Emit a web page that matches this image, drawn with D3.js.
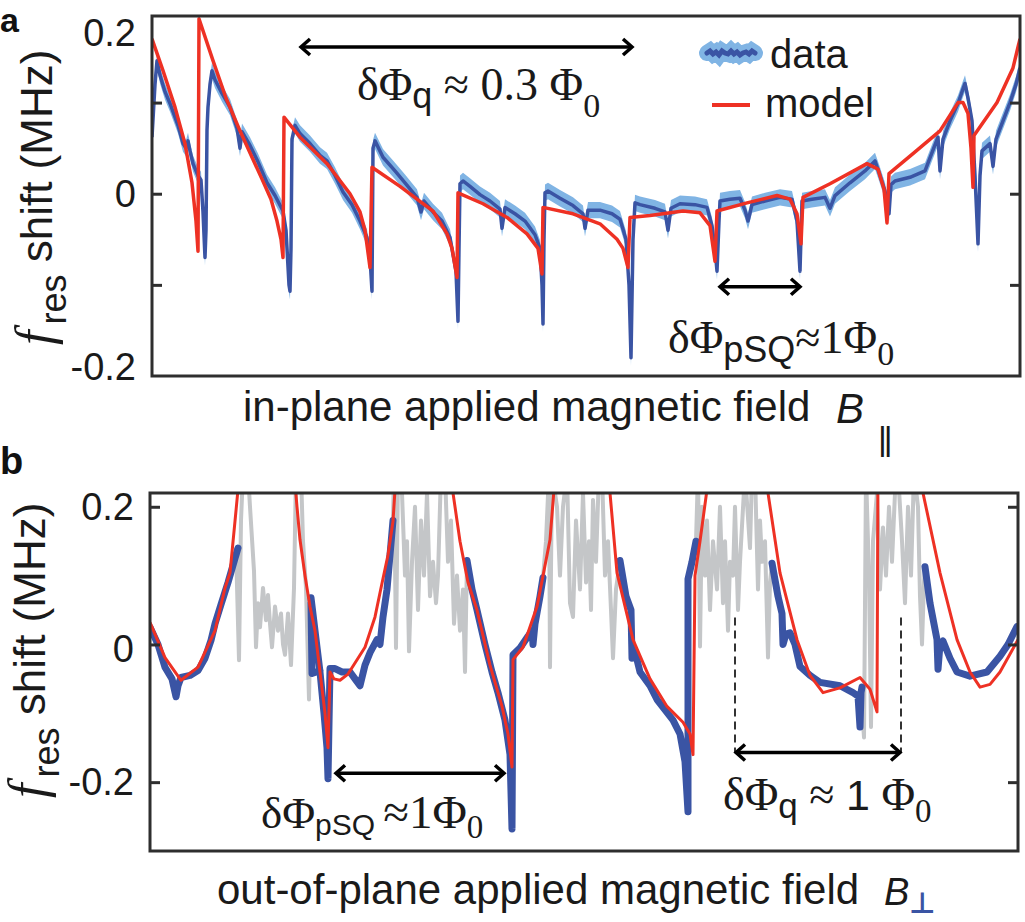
<!DOCTYPE html>
<html><head><meta charset="utf-8">
<script src="https://cdn.jsdelivr.net/npm/d3@7"></script>
<style>body{margin:0;background:#fff}svg{display:block}</style>
</head><body>
<script>
// ---------------- DATA (field in arbitrary units, f_res shift in MHz) ----------------
// Panel a : in-plane field
const aModel = [[0,0.17],[11,0.135],[23,0.095],[33,0.055],[40,0.012],[44,-0.03],[46,-0.063],
 [47,0.192],[61,0.146],[74,0.105],[88,0.069],[100,0.04],[110,0.016],[119,-0.006],[125,-0.03],[129,-0.05],[131,-0.07],
 [132,0.084],[148,0.062],[175,0.033],[198,0.0],[208,-0.02],[213,-0.04],[218,-0.081],
 [220,0.029],[248,0.008],[281,-0.019],[295,-0.044],[300,-0.06],[305,-0.092],
 [306,0.001],[331,-0.011],[355,-0.026],[375,-0.044],[386,-0.06],[390,-0.088],
 [391,-0.015],[421,-0.022],[448,-0.033],[465,-0.05],[471,-0.06],[476,-0.081],
 [478,-0.026],[498,-0.024],[531,-0.019],[548,-0.021],[558,-0.035],[563,-0.074],
 [565,-0.019],[595,-0.01],[625,-0.002],[638,-0.006],[645,-0.022],[649,-0.055],
 [651,-0.004],[678,0.011],[715,0.033],[726,0.027],[732,0.005],[735,-0.032],
 [737,0.022],[761,0.044],[788,0.069],[806,0.1],[811,0.1],[816,0.088],[819,0.05],[821,0.007],
 [822,0.064],[845,0.1],[861,0.138],[868,0.17]];
const aData = [[0,0.062],[3,0.12],[5,0.146],[8,0.13],[13,0.112],[18,0.099],[26,0.075],[31,0.055],[34,0.05],[36,0.058],[38,0.047],
 [41,0.033],[46,0.02],[49,0.015],[51,-0.02],[53,-0.07],[54,-0.04],[55,0.07],[56,0.095],[58,0.12],[60,0.135],[63,0.125],
 [70,0.11],[78,0.095],[85,0.072],[88,0.05],[90,0.068],[98,0.053],[106,0.035],[115,0.012],[123,-0.002],[131,-0.019],
 [134,-0.04],[137,-0.1],[138,-0.107],[139,-0.06],[140,0.06],[143,0.075],[148,0.066],[158,0.055],[168,0.042],[175,0.036],
 [183,0.02],[191,0.002],[200,-0.012],[208,-0.03],[215,-0.048],[218,-0.07],[220,-0.107],[221,0.05],[223,0.058],[231,0.04],
 [243,0.025],[253,0.012],[265,-0.004],[269,-0.02],[272,-0.008],[281,-0.02],[290,-0.03],[298,-0.048],[304,-0.085],
 [306,-0.14],[307,-0.06],[308,0.011],[311,0.014],[318,0.008],[328,-0.001],[338,-0.008],[348,-0.017],[350,-0.038],
 [353,-0.015],[363,-0.022],[373,-0.03],[383,-0.045],[388,-0.06],[390,-0.1],[391,-0.143],[392,-0.05],[393,0.001],
 [396,0.003],[408,-0.005],[421,-0.013],[431,-0.022],[433,-0.038],[436,-0.018],[448,-0.018],[460,-0.022],[468,-0.028],
 [474,-0.05],[477,-0.1],[479,-0.18],[481,-0.05],[483,-0.01],[488,-0.012],[503,-0.016],[513,-0.02],[516,-0.04],
 [519,-0.016],[528,-0.011],[543,-0.012],[555,-0.015],[560,-0.035],[563,-0.06],[565,-0.085],[567,-0.03],[568,-0.008],
 [578,-0.006],[588,-0.005],[593,-0.018],[596,-0.03],[600,-0.012],[613,-0.008],[628,-0.004],[640,-0.006],[645,-0.03],
 [648,-0.085],[650,-0.008],[660,-0.006],[673,-0.004],[678,-0.016],[683,-0.002],[698,0.012],[713,0.025],[723,0.036],
 [728,0.02],[733,0.003],[737,-0.022],[739,0.01],[743,0.014],[758,0.018],[773,0.025],[780,0.045],[786,0.062],[788,0.025],
 [791,0.06],[798,0.08],[806,0.099],[811,0.115],[813,0.121],[816,0.105],[820,0.08],[823,0.02],[826,-0.055],[828,0.02],
 [830,0.047],[838,0.055],[841,0.03],[844,0.06],[851,0.08],[858,0.1],[864,0.12],[868,0.138]];
const aBandHalfWidth = 0.009;
const aTickMarks = [0.1, 0, -0.1];
const aTickLabels = [0.2, 0, -0.2];

// Panel b : out-of-plane field
const bModel = [[0,0.032],[15,-0.019],[31,-0.052],[48,-0.033],[65,0.02],[75,0.082],[80,0.104],[85,0.179],[88,0.225],[90,0.27],
 [143,0.27],[147,0.2],[150,0.152],[155,0.1],[160,0.055],[165,0.02],[170,-0.04],[175,-0.1],[178,-0.15],
 [180,-0.04],[184,-0.05],[190,-0.052],[198,-0.043],[215,-0.004],[225,0.04],[231,0.082],[238,0.13],[243,0.179],[247,0.27],
 [301,0.27],[303,0.22],[310,0.15],[318,0.09],[327,0.05],[340,-0.03],[352,-0.09],[358,-0.13],[362,-0.178],
 [363,-0.022],[373,-0.004],[387,0.055],[400,0.152],[404,0.225],[406,0.27],
 [458,0.27],[460,0.22],[467,0.104],[483,0.007],[500,-0.05],[517,-0.09],[533,-0.113],[540,-0.13],[543,-0.16],
 [545,0.1],[550,0.15],[557,0.225],[559,0.27],
 [616,0.27],[618,0.22],[630,0.104],[647,0.007],[660,-0.045],[673,-0.07],[690,-0.063],[710,-0.048],[720,-0.065],[727,-0.098],
 [728,0.27],[771,0.27],[773,0.22],[790,0.104],[807,0.007],[820,-0.04],[830,-0.062],[840,-0.058],[850,-0.04],[868,0.007]];
const bData = [[0,0.025],[8,0.0],[15,-0.033],[22,-0.05],[26,-0.076],[28,-0.06],[31,-0.048],[40,-0.045],[48,-0.038],[55,-0.02],
 [61,0.006],[65,0.03],[71,0.058],[78,0.09],[84,0.12],[88,0.14],[88,null],
 [161,0.06],[162,-0.042],[170,-0.038],[170,null],
 [161,0.068],[165,0.02],[170,-0.04],[174,-0.1],[177,-0.15],[178,-0.195],[180,-0.035],[185,-0.035],[192,-0.04],[200,-0.04],
 [205,-0.05],[210,-0.06],[215,-0.03],[220,-0.012],[227,0.007],[230,0.0],[233,0.04],[237,0.08],[240,0.13],[243,0.18],[243,null],
 [317,0.122],[322,0.08],[327,0.05],[335,0.0],[342,-0.04],[348,-0.07],[355,-0.11],[360,-0.16],[362,-0.268],[363,-0.015],
 [370,-0.005],[378,0.012],[382,0.02],[383,0.0],[385,0.03],[390,0.07],[393,0.097],[393,null],
 [470,0.122],[476,0.07],[481,0.05],[482,-0.02],[485,-0.01],[490,-0.04],[500,-0.06],[507,-0.08],[515,-0.095],[523,-0.11],
 [530,-0.13],[535,-0.17],[538,-0.243],[538,0.095],[542,0.12],[546,0.15],[546,null],
 [622,0.118],[628,0.07],[632,0.045],[633,0.0],[636,0.015],[640,0.017],[645,0.0],[650,-0.032],[660,-0.045],[670,-0.055],
 [690,-0.06],[703,-0.07],[708,-0.075],[710,-0.12],[711,-0.07],[712,-0.062],[712,null],
 [775,0.113],[780,0.06],[787,0.007],[788,-0.036],[790,0.0],[793,0.005],[800,-0.02],[807,-0.04],[820,-0.046],[837,-0.04],
 [850,-0.017],[858,0.0],[867,0.026]];
const bExcluded = [[86,0.14],[89,-0.023],[91,0.18],[93,0.25],[98,0.25],[100,0.2],[104,0.107],[106,-0.004],[108,0.06],[110,0.025],[113,0.082],
 [116,0.035],[118,0.072],[120,0.03],[122,-0.004],[125,0.055],[128,0.02],[131,0.045],[133,0.0],[135,-0.015],[138,0.045],[141,-0.03],[144,0.082],
 [146,0.25],[151,0.25],[153,0.15],[156,0.082],[159,-0.08],[161,0.068],[161,null],
 [243,0.18],[244,0.25],[246,-0.005],[248,0.25],[252,0.22],[255,0.1],[257,0.15],[259,-0.01],[262,0.12],[265,0.2],[268,0.05],
 [271,0.18],[274,0.1],[277,0.22],[280,0.07],[283,0.12],[286,0.06],[288,0.1],[291,0.25],[295,0.25],[298,0.12],[301,0.18],
 [304,0.03],[307,0.1],[310,0.02],[313,0.08],[315,-0.04],[317,0.122],[317,null],
 [393,0.097],[396,0.15],[399,0.25],[400,-0.033],[402,0.25],[407,0.2],[410,0.1],[413,0.2],[417,0.25],[420,0.06],[423,0.04],
 [426,0.18],[430,0.08],[433,0.22],[436,0.09],[439,0.15],[441,0.05],[443,0.21],[446,0.12],[449,0.25],[452,0.25],[455,0.1],
 [458,0.15],[461,0.05],[463,-0.02],[466,0.08],[470,0.122],[470,null],
 [546,0.15],[548,0.25],[550,-0.003],[552,0.2],[555,0.1],[557,0.18],[560,0.05],[563,0.15],[567,0.08],[570,0.2],[573,0.06],
 [575,0.15],[578,0.02],[580,0.12],[583,0.1],[585,0.2],[588,0.05],[590,0.12],[595,0.25],[600,0.14],[602,0.25],[605,0.25],
 [608,0.08],[610,0.18],[612,0.12],[615,0.15],[618,-0.019],[620,0.09],[622,0.118],[622,null],
 [711,-0.07],[714,-0.135],[716,0.25],[719,0.1],[721,-0.12],[723,0.15],[727,0.22],[730,0.08],[733,0.17],[736,0.1],[739,0.2],
 [742,0.12],[745,0.22],[748,0.25],[752,0.15],[755,0.06],[758,0.2],[761,0.1],[764,0.25],[768,0.2],[770,0.07],[772,0.0],
 [774,0.09],[775,0.113]];
const bTickMarks = [0.2, 0, -0.2];
const bTickLabels = [0.2, 0, -0.2];

// annotations (data coordinates)
const aArrowTop = {x0:148, x1:481, y:0.161};
const aArrowBottom = {x0:567, x1:649, y:-0.102};
const bArrowLeft = {x0:185, x1:355, y:-0.187};
const bArrowRight = {x0:585, x1:751, y:-0.157, yTop:0.039};

// ---------------- DRAWING ----------------
const W=1025, H=922;
const sans='"Liberation Sans", Arial, Helvetica, sans-serif';
const serif='"Liberation Serif", "Times New Roman", serif';
const cDark='#3a54a4', cLight='#80b4e4', cRed='#ee3124', cGray='#c4c6c8', cAxis='#2e2e2e';

const svg=d3.select('body').append('svg').attr('width',W).attr('height',H);

const A={l:152,r:1020,t:16,b:376};
const B={l:150,r:1018,t:493,b:851};
const xA=d3.scaleLinear().domain([0,868]).range([A.l,A.r]);
const yA=d3.scaleLinear().domain([-0.2,0.195]).range([A.b,A.t]);
const xB=d3.scaleLinear().domain([0,868]).range([B.l,B.r]);
const yB=d3.scaleLinear().domain([-0.3,0.22]).range([B.b,B.t]);

const defs=svg.append('defs');
defs.append('clipPath').attr('id','clipA').append('rect').attr('x',A.l).attr('y',A.t).attr('width',A.r-A.l).attr('height',A.b-A.t);
defs.append('clipPath').attr('id','clipB').append('rect').attr('x',B.l).attr('y',B.t).attr('width',B.r-B.l).attr('height',B.b-B.t);

// ---- panel a
const gA=svg.append('g');
const pA=gA.append('g').attr('clip-path','url(#clipA)');
pA.append('path').datum(aData)
  .attr('d',d3.area().x(d=>xA(d[0])).y0(d=>yA(d[1]-aBandHalfWidth)).y1(d=>yA(d[1]+aBandHalfWidth)))
  .attr('fill',cLight);
pA.append('path').datum(aData)
  .attr('d',d3.line().x(d=>xA(d[0])).y(d=>yA(d[1])))
  .attr('fill','none').attr('stroke',cDark).attr('stroke-width',3.5).attr('stroke-linejoin','round');
pA.append('path').datum(aModel)
  .attr('d',d3.line().x(d=>xA(d[0])).y(d=>yA(d[1])))
  .attr('fill','none').attr('stroke',cRed).attr('stroke-width',3.5).attr('stroke-linejoin','round');

function ticks(g, axisFn, scale, vals, x){
  const ax=g.append('g').attr('transform',`translate(${x},0)`)
    .call(axisFn(scale).tickValues(vals).tickSize(-10).tickFormat(''));
  ax.select('.domain').remove();
  ax.selectAll('line').attr('stroke',cAxis).attr('stroke-width',3);
}
ticks(gA, d3.axisLeft, yA, aTickMarks, A.l);
ticks(gA, d3.axisRight, yA, aTickMarks, A.r);
gA.append('rect').attr('x',A.l).attr('y',A.t).attr('width',A.r-A.l).attr('height',A.b-A.t)
  .attr('fill','none').attr('stroke',cAxis).attr('stroke-width',3);
gA.selectAll('.tl').data(aTickLabels).enter().append('text')
  .attr('x',A.l-16).attr('y',d=>Math.min(Math.max(yA(d),A.t+17),A.b-9))
  .attr('text-anchor','end').attr('dominant-baseline','central')
  .attr('font-family',sans).attr('font-size',38).attr('fill','#1a1a1a').text(d=>d);

// ---- panel b
const gB=svg.append('g');
const pB=gB.append('g').attr('clip-path','url(#clipB)');
const lineB=d3.line().defined(d=>d[1]!==null).x(d=>xB(d[0])).y(d=>yB(d[1]));
pB.append('path').datum(bExcluded).attr('d',lineB)
  .attr('fill','none').attr('stroke',cGray).attr('stroke-width',4).attr('stroke-linejoin','round');
pB.append('path').datum(bData).attr('d',lineB)
  .attr('fill','none').attr('stroke',cDark).attr('stroke-width',7).attr('stroke-linejoin','round').attr('stroke-linecap','round');
pB.append('path').datum(bModel).attr('d',lineB)
  .attr('fill','none').attr('stroke',cRed).attr('stroke-width',3).attr('stroke-linejoin','round');
ticks(gB, d3.axisLeft, yB, bTickMarks, B.l);
ticks(gB, d3.axisRight, yB, bTickMarks, B.r);
gB.append('rect').attr('x',B.l).attr('y',B.t).attr('width',B.r-B.l).attr('height',B.b-B.t)
  .attr('fill','none').attr('stroke',cAxis).attr('stroke-width',3);
gB.selectAll('.tl').data(bTickLabels).enter().append('text')
  .attr('x',B.l-16).attr('y',d=>yB(d)+(d===0?5:0))
  .attr('text-anchor','end').attr('dominant-baseline','central')
  .attr('font-family',sans).attr('font-size',38).attr('fill','#1a1a1a').text(d=>d);

// ---- arrows
function dArrow(x1,x2,y){
  const g=svg.append('g').attr('stroke','#000').attr('fill','none').attr('stroke-width',3.5)
    .attr('stroke-linejoin','miter').attr('stroke-linecap','butt');
  g.append('line').attr('x1',x1+1).attr('x2',x2-1).attr('y1',y).attr('y2',y);
  g.append('polyline').attr('points',`${x1+10},${y-8} ${x1+1},${y} ${x1+10},${y+8}`);
  g.append('polyline').attr('points',`${x2-10},${y-8} ${x2-1},${y} ${x2-10},${y+8}`);
}
dArrow(xA(aArrowTop.x0),xA(aArrowTop.x1),yA(aArrowTop.y));
dArrow(xA(aArrowBottom.x0),xA(aArrowBottom.x1),yA(aArrowBottom.y));
dArrow(xB(bArrowLeft.x0),xB(bArrowLeft.x1),yB(bArrowLeft.y));
dArrow(xB(bArrowRight.x0),xB(bArrowRight.x1),yB(bArrowRight.y));
[bArrowRight.x0,bArrowRight.x1].forEach(v=>{
  svg.append('line').attr('x1',xB(v)).attr('x2',xB(v)).attr('y1',yB(bArrowRight.yTop)).attr('y2',yB(bArrowRight.y))
    .attr('stroke','#000').attr('stroke-width',1.6).attr('stroke-dasharray','8,5');
});

// ---- annotation texts
function rich(x,y,parts){
  const t=svg.append('text').attr('x',x).attr('y',y).attr('fill','#1a1a1a');
  parts.forEach(p=>{
    const s=t.append('tspan').text(p.t).attr('font-family',p.f||serif).attr('font-size',p.s||46);
    if(p.dy) s.attr('dy',p.dy);
    if(p.dx) s.attr('dx',p.dx);
    if(p.c) s.attr('fill',p.c);
  });
  return t;
}
rich(xA(205),yA(0.103),[{t:'δΦ'},{t:'q',f:sans,s:36,dy:8},{t:'  ≈ 0.3 Φ',dy:-8},{t:'0',s:34,dy:17}]);
rich(xA(516),yA(-0.175),[{t:'δΦ'},{t:'pSQ',f:sans,s:36,dy:9},{t:'≈1Φ',dy:-9},{t:'0',s:34,dy:12}]);
rich(xB(111),yB(-0.266),[{t:'δΦ',s:45},{t:'pSQ',f:sans,s:30,dy:7},{t:'≈1Φ',s:47,dy:-7,dx:8},{t:'0',s:33,dy:10}]);
rich(xB(573),yB(-0.24),[{t:'δΦ',s:46},{t:'q',f:sans,s:35,dy:8},{t:' ≈ ',s:46,dy:-8},{t:'1',f:sans,s:43},{t:'  Φ',s:46},{t:'0',s:33,dy:12}]);

// ---- legend
const legWiggle=[0,-2,1,-1,2,-2,0,1,-2,1,-1,2,0,-1,1,-2,0];
const lx0=707, lx1=755, ly=53;
const legPts=legWiggle.map((w,i)=>[lx0+(lx1-lx0)*i/(legWiggle.length-1), ly+w]);
svg.append('path').attr('d',d3.line()(legPts)).attr('fill','none').attr('stroke',cLight).attr('stroke-width',16).attr('stroke-linecap','round');
svg.append('path').attr('d',d3.line()(legPts)).attr('fill','none').attr('stroke',cDark).attr('stroke-width',5).attr('stroke-linecap','round');
svg.append('line').attr('x1',712).attr('x2',750).attr('y1',105).attr('y2',105).attr('stroke',cRed).attr('stroke-width',4);
svg.append('text').attr('x',770).attr('y',68).attr('font-family',sans).attr('font-size',40).attr('fill','#1a1a1a').text('data');
svg.append('text').attr('x',765).attr('y',117).attr('font-family',sans).attr('font-size',40).attr('fill','#1a1a1a').text('model');

// ---- axis titles
function ylabel(x,y){
  const t=svg.append('text').attr('transform',`translate(${x},${y}) rotate(-90)`).attr('fill','#1a1a1a');
  t.append('tspan').text('f').attr('font-family',serif).attr('font-style','italic').attr('font-size',52);
  t.append('tspan').text('res').attr('font-family',sans).attr('font-size',36).attr('dy',14).attr('dx',6);
  t.append('tspan').text(' shift (MHz)').attr('font-family',sans).attr('font-size',44).attr('dy',-14);
}
ylabel(52,345);
ylabel(45,798);

svg.append('text').attr('x',243).attr('y',421).attr('font-family',sans).attr('font-size',42).attr('fill','#1a1a1a')
  .text('in-plane applied magnetic field');
svg.append('text').attr('x',836).attr('y',423).attr('font-family',sans).attr('font-style','italic').attr('font-size',42).attr('fill','#1a1a1a').text('B');
svg.append('text').attr('x',878).attr('y',450).attr('font-family',sans).attr('font-size',34).attr('fill','#1a1a1a').attr('letter-spacing',-3).text('||');

svg.append('text').attr('x',217).attr('y',904).attr('font-family',sans).attr('font-size',42).attr('fill','#1a1a1a')
  .text('out-of-plane applied magnetic field');
svg.append('text').attr('x',884).attr('y',905).attr('font-family',sans).attr('font-style','italic').attr('font-size',38).attr('fill','#1a1a1a').text('B');
svg.append('text').attr('x',909).attr('y',913).attr('font-family','"DejaVu Sans", sans-serif').attr('font-weight','bold').attr('font-size',29).attr('fill',cDark).text('⊥');

// ---- panel letters
svg.append('text').attr('x',0).attr('y',32).attr('font-family',sans).attr('font-weight','bold').attr('font-size',34).attr('fill','#111').text('a');
svg.append('text').attr('x',0).attr('y',474).attr('font-family',sans).attr('font-weight','bold').attr('font-size',38).attr('fill','#111').text('b');
</script>
</body></html>
